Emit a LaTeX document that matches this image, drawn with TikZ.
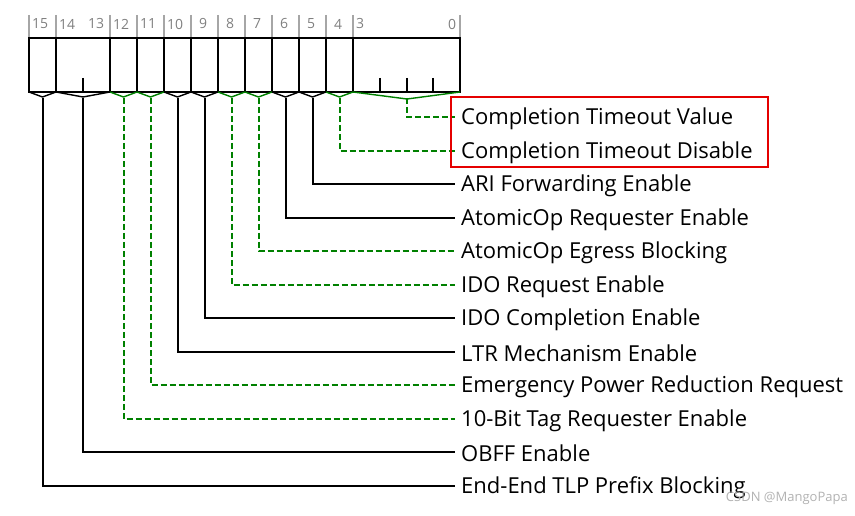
\documentclass[tikz,border=0pt]{standalone}
\usepackage{fontspec}
\setmainfont{Open Sans}
\begin{document}
\begin{tikzpicture}[x=1pt,y=-1pt,
 lab/.style={anchor=west,inner sep=0pt,font=\fontsize{22}{24}\selectfont},
 num/.style={anchor=west,inner sep=0pt,text=gray,font=\fontsize{14}{16}\selectfont},
 blk/.style={line width=2pt,black},
 grn/.style={line width=2pt,green!50!black,dash pattern=on 6pt off 3pt},
 gv/.style={line width=1.4pt,green!50!black},
 bv/.style={line width=1.4pt,black}]
\useasboundingbox (0,0) rectangle (855,516);
% bit tick marks and numbers
\foreach \x in {29,56,110,137,164,191,218,245,272,299,326,353,460}
  \draw[gray!70,line width=1.4pt] (\x,15) -- (\x,38);
\foreach \x/\t in {32/15,59/14,88/13,113/12,140/11,167/10,199/9,226/8,253/7,280/6,307/5,334/4,356/3,448/0}
  \node[num] at (\x,24) {\t};
% register box
\draw[line width=2.6pt] (29,38) rectangle (460,92);
\foreach \x in {56,110,137,164,191,218,245,272,299,326,353}
  \draw[line width=2.6pt] (\x,38) -- (\x,92);
\foreach \x in {83,380,407,433}
  \draw[line width=1.6pt] (\x,78) -- (\x,92);
% brace V marks
\foreach \a/\b/\s in {29/56/bv,56/110/bv,110/137/gv,137/164/gv,164/191/bv,191/218/bv,218/245/gv,245/272/gv,272/299/bv,299/326/bv,326/353/gv}
  \draw[\s] (\a,92) -- ({(\a+\b)/2},97) -- (\b,92);
\draw[gv] (353,92) -- (407,99) -- (460,92);
% labels
\foreach \n/\y/\t in {a/117/Completion Timeout Value,b/151/Completion Timeout Disable,c/184/ARI Forwarding Enable,d/218/AtomicOp Requester Enable,e/251/AtomicOp Egress Blocking,f/285/IDO Request Enable,g/318/IDO Completion Enable,h/352/LTR Mechanism Enable,i/385/Emergency Power Reduction Request,j/419/10-Bit Tag Requester Enable,k/452/OBFF Enable,l/486/End-End TLP Prefix Blocking}
  \node[lab] (\n) at (461,\y+1.5) {\t};
% connectors
\foreach \n/\x/\s in {a/407/grn,b/339.5/grn,c/312.5/blk,d/285.5/blk,e/258.5/grn,f/231.5/grn,g/204.5/blk,h/177.5/blk,i/150.5/grn,j/123.5/grn,k/83/blk,l/42.5/blk}
  \draw[\s] (\x,98) |- ([xshift=-6pt,yshift=1.5pt]\n.west);
% highlight
\draw[red!90!black,line width=2.2pt] (451,97) rectangle (768,167);
\node[anchor=south east,inner sep=2pt,text=gray!60,font=\fontsize{13}{15}\selectfont] (wm) at (850,507) {CSDN @MangoPapa};
\end{tikzpicture}
\end{document}
